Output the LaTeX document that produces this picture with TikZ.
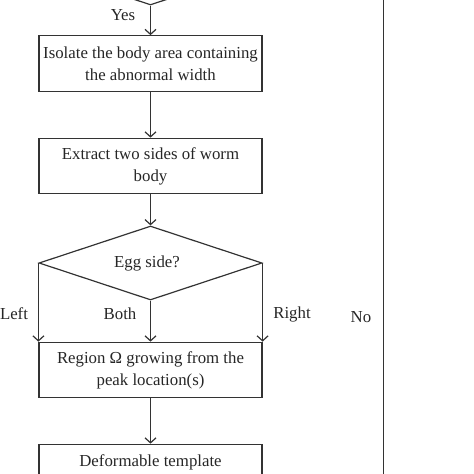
\documentclass[tikz,border=0pt]{standalone}
\usepackage{fontspec}
\setmainfont{Liberation Serif}
\usetikzlibrary{arrows.meta,shapes.geometric}
\begin{document}
\begin{tikzpicture}[x=1pt,y=-1pt,
  line width=1.2pt,
  procbox/.style={draw=black!80,rectangle,minimum width=223pt,minimum height=55.5pt,inner sep=0pt,align=center,font=\fontsize{16.8}{22}\selectfont,text=black!85},
  decbox/.style={draw=black!80,diamond,aspect=3,minimum width=223pt,minimum height=74pt,inner sep=0pt},
  lbl/.style={font=\fontsize{16.8}{18}\selectfont,text=black!85,inner sep=0pt},
  arr/.style={draw=black!80,-{Straight Barb[length=5pt,width=11pt]}},
  plain/.style={draw=black!80}]
\useasboundingbox (0,0) rectangle (474,474);
% top (partially visible) decision
\node[decbox] (d0) at (150.5,-32) {};
\node[procbox] (b1) at (150.5,63.5) {Isolate the body area containing\\the abnormal width};
\node[procbox] (b2) at (150.5,166) {Extract two sides of worm\\body};
\node[decbox] (d1) at (150.5,263) {};
\node[lbl] at (147,263) {Egg side?};
\node[procbox] (b3) at (150.5,370) {Region Ω growing from the\\peak location(s)};
\node[procbox] (b4) at (150.5,472) {Deformable template\\};
\coordinate (ntop) at (383.5,0);
\coordinate (nbot) at (383.5,474);

\draw[arr] (d0.south) -- (b1.north);
\draw[arr] (b1.south) -- (b2.north);
\draw[arr] (b2.south) -- (d1.north);
\draw[arr] (d1.west) -- (d1.west |- b3.north);
\draw[arr] (d1.south) -- (b3.north);
\draw[arr] (d1.east) -- (d1.east |- b3.north);
\draw[arr] (b3.south) -- (b4.north);
\draw[plain] (ntop) -- (nbot);

\node[lbl] at (123,15) {Yes};
\node[lbl] at (14,314) {Left};
\node[lbl] at (120,314) {Both};
\node[lbl] at (292,314) {Right};
\node[lbl] at (361,317) {No};
\end{tikzpicture}
\end{document}
